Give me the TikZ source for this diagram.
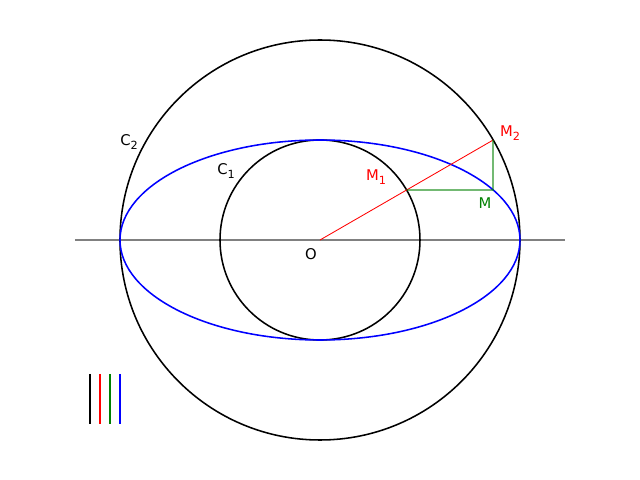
\documentclass[tikz,border=0pt]{standalone}
\usepackage{fontspec}
\setmainfont{DejaVu Sans}
\usetikzlibrary{calc}
\definecolor{mplgreen}{RGB}{0,128,0}
\tikzset{lbl/.style={font=\fontsize{10.5}{12}\selectfont, inner sep=0pt}}
\newcommand{\lowsub}[1]{\raisebox{-0.45ex}{\fontsize{8}{9}\selectfont #1}}

\begin{document}
\begin{tikzpicture}[x=0.025cm, y=0.025cm]
			%%%%% START %%%%%
			\useasboundingbox (-320, -240) rectangle (320, 240);
			
			\coordinate (O) at (0, 0);
			\coordinate (M2) at ({200*cos(30)}, {200*sin(30)});
			\coordinate (M1) at ({100*cos(30)}, {100*sin(30)});
			\coordinate (M) at ({200*cos(30)}, {100*sin(30)});
			\coordinate (axL) at (-245, 0);
			\coordinate (axR) at (245, 0);
			
			\draw[line width=1.1pt, color=black!50] (axL) -- (axR);
			
			\draw[line width=1.1pt] (O) circle (200);
			\draw[line width=1.1pt] (O) circle (100);
			\draw[line width=1.1pt, color=blue] (O) ellipse (200 and 100);
			
			\draw[line width=0.6pt, color=red] (O) -- (M2);
			\draw[line width=1.1pt, color=mplgreen, opacity=0.55] (M1) -- (M) -- (M2);
			
			\node[lbl] (c2) at (-191, 98) {C\lowsub{2}};
			\node[lbl] (c1) at (-94, 69) {C\lowsub{1}};
			\node[lbl, color=red] (m1) at (56, 63) {M\lowsub{1}};
			\node[lbl, color=red] (m2) at (190, 107) {M\lowsub{2}};
			\node[lbl, color=mplgreen] (m) at (165, 37) {M};
			\node[lbl] (o) at (-9, -14) {O};
			
			%%%%% legend %%%%%
			\draw[line width=1.1pt] (-230, -134) -- (-230, -184);
			\draw[line width=1.1pt, color=red] (-220, -134) -- (-220, -184);
			\draw[line width=1.1pt, color=mplgreen] (-210, -134) -- (-210, -184);
			\draw[line width=1.1pt, color=blue] (-200, -134) -- (-200, -184);
			
			%%%%% END %%%%%
\end{tikzpicture}
\end{document}
